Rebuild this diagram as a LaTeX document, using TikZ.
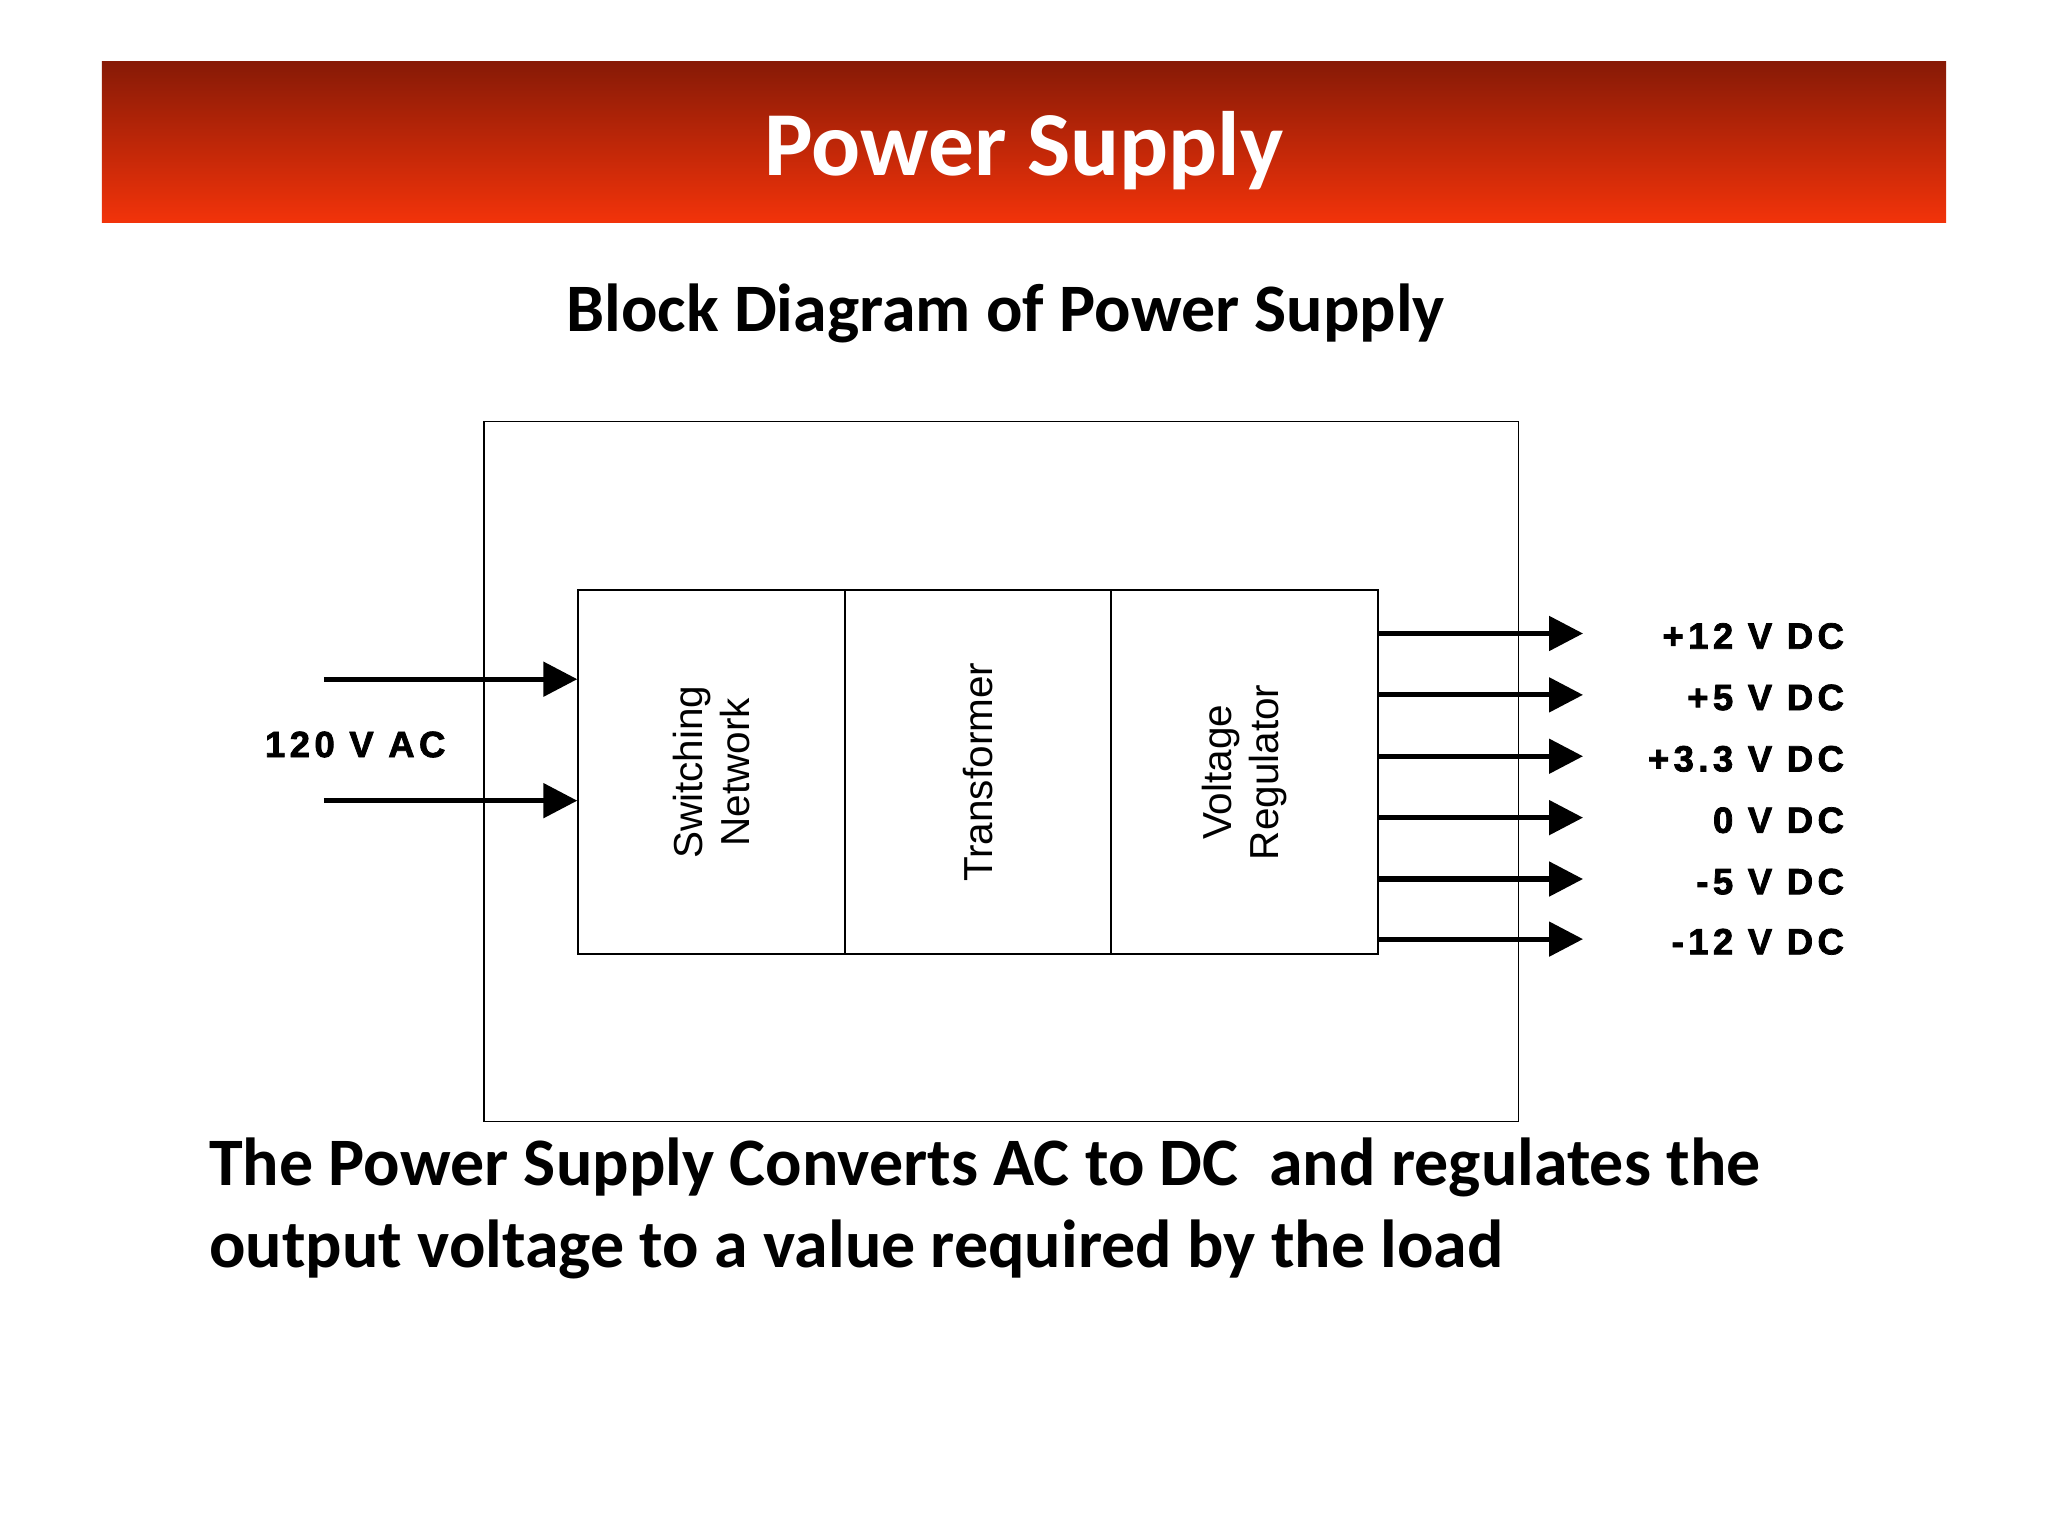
\documentclass[tikz,border=0pt]{standalone}
\usepackage{fontspec}
\setmainfont{Carlito}
\newfontfamily\arial{Liberation Sans}
\newfontfamily\arialw{Liberation Sans}[LetterSpace=12,FakeBold=2]
\usetikzlibrary{arrows.meta}
\definecolor{topred}{HTML}{871A06}
\definecolor{botred}{HTML}{F2330A}
\begin{document}
\begin{tikzpicture}[x=1pt,y=-1pt,
  blk/.style={draw,line width=1.5pt,minimum width=204pt,minimum height=279pt,anchor=north west,inner sep=0},
  arr/.style={line width=4pt,-{Triangle[length=26pt,width=26pt]}},
  olab/.style={font=\arialw\bfseries\fontsize{28}{30}\selectfont,anchor=east,inner sep=0}]
\useasboundingbox (0,0) rectangle (1568,1176);
\fill[white] (0,0) rectangle (1568,1176);
\shade[top color=topred,bottom color=botred] (78,47) rectangle (1490,170);
\node[text=white,font=\bfseries\fontsize{70}{74}\selectfont] (title) at (784,115) {Power Supply};
\node[font=\bfseries\fontsize{52}{56}\selectfont] (sub) at (770,240) {Block Diagram of Power Supply};
\node[draw,line width=1.2pt,minimum width=792pt,minimum height=536pt,anchor=north west,inner sep=0] (outer) at (370,322) {};
\node[blk] (sw) at (442,451) {};
\node[blk] (tr) at (646,451) {};
\node[blk] (vr) at (850,451) {};
\node[rotate=90,align=center,font=\arial\fontsize{31}{36}\selectfont] at (sw.center) {Switching\\Network};
\node[rotate=90,font=\arial\fontsize{31}{36}\selectfont] at (tr.center) {Transformer};
\node[rotate=90,align=center,font=\arial\fontsize{31}{36}\selectfont] at (vr.center) {Voltage\\Regulator};
\coordinate (i1) at (248,520); \coordinate (i2) at (248,613);
\draw[arr] (i1) -- (sw.west |- i1);
\draw[arr] (i2) -- (sw.west |- i2);
\node[font=\arialw\bfseries\fontsize{28}{30}\selectfont] (in) at (272,570) {120 V AC};
\foreach \y/\t [count=\i] in {485/+12 V DC,532/+5 V DC,579/+3.3 V DC,626/0 V DC,673/-5 V DC,719/-12 V DC}{
  \coordinate (o\i) at (1212,\y);
  \draw[arr] (vr.east |- o\i) -- (o\i);
  \node[olab] (l\i) at (1412,\y+2) {\t};
}
\node[anchor=west,align=left,font=\bfseries\fontsize{52}{63}\selectfont,inner sep=0] (txt) at (160,925) {The Power Supply Converts AC to DC \ and regulates the\\output voltage to a value required by the load};
\end{tikzpicture}
\end{document}
